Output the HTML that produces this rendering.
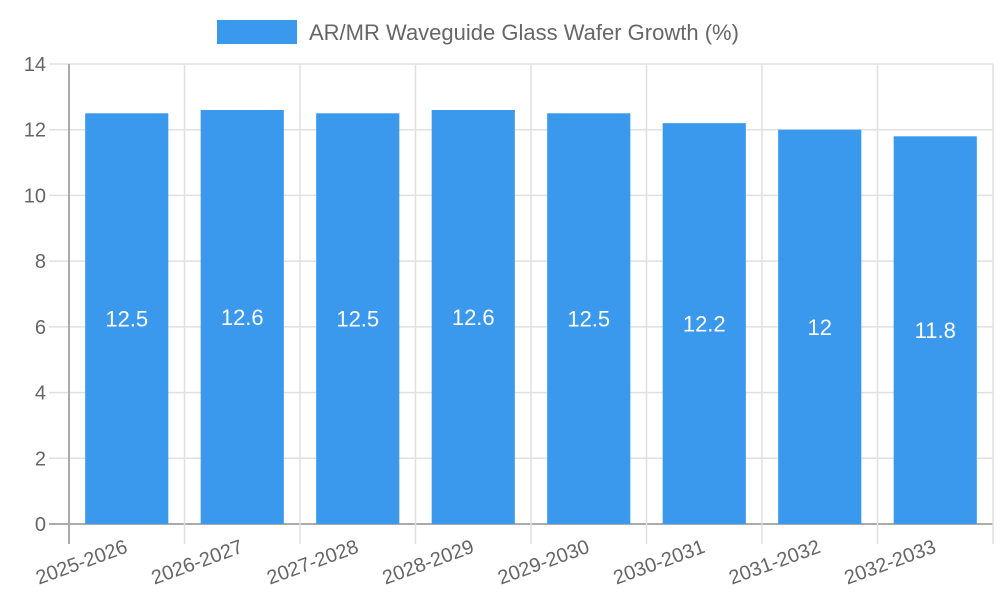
<!DOCTYPE html>
<html><head><meta charset="utf-8"><style>
html,body{margin:0;padding:0;background:#fff;width:1000px;height:600px;overflow:hidden}
svg{display:block;font-family:"Liberation Sans",sans-serif}
</style></head><body>
<svg id="chart" width="1000" height="600">
<g>
<rect x="217" y="20" width="80" height="24" fill="#3a99ec"></rect>
<text x="309" y="40" font-size="22" fill="#666">AR/MR Waveguide Glass Wafer Growth (%)</text>
</g>
<g id="grid"></g><g id="bars"></g><g id="axes"></g>
</svg>
<script>
const categories=["2025-2026","2026-2027","2027-2028","2028-2029","2029-2030","2030-2031","2031-2032","2032-2033"];
const values=[12.5,12.6,12.5,12.6,12.5,12.2,12,11.8];
const yTicks=[0,2,4,6,8,10,12,14];
const L=69,R=993,T=64,B=524,yMax=14;
const NS="http://www.w3.org/2000/svg";
const step=(R-L)/categories.length;
const y=v=>B-(v/yMax)*(B-T);
const x=i=>L+step*i;
function mk(tag,attrs,parent){const e=document.createElementNS(NS,tag);for(const k in attrs)e.setAttribute(k,attrs[k]);parent.appendChild(e);return e;}
const grid=document.getElementById('grid'),bars=document.getElementById('bars'),axes=document.getElementById('axes');
yTicks.forEach(t=>{
  const l=mk('line',{x1:49,x2:R,y1:y(t),y2:y(t),stroke:t===0?'#aaa':'#e0e0e0','stroke-width':t===0?2:1.5},grid);
  
  
  const tx=mk('text',{x:46,y:y(t)+7,'text-anchor':'end','font-size':20,fill:'#666'},axes);
  tx.textContent=t;
  
  
});
for(let i=0;i<=categories.length;i++){
  const l=mk('line',{x1:x(i),x2:x(i),y1:T,y2:544,stroke:i===0?'#aaa':'#e0e0e0','stroke-width':i===0?2:1.5},grid);
  
  
}
categories.forEach((c,i)=>{
  const cx=x(i)+step/2,bw=step*0.72,top=y(values[i]);
  const r=mk('rect',{x:cx-bw/2,y:top,width:bw,height:B-top,fill:'#3a99ec'},bars);
  
  
  const v=mk('text',{x:cx,y:(top+B)/2+8,'text-anchor':'middle','font-size':22,fill:'#fff'},bars);
  v.textContent=values[i];
  
  
  const lb=mk('text',{x:cx+2,y:552,'text-anchor':'end','font-size':20,fill:'#666',transform:`rotate(-20 ${cx+2} 552)`},axes);
  lb.textContent=c;
  
  
});
</script>
</body></html>
